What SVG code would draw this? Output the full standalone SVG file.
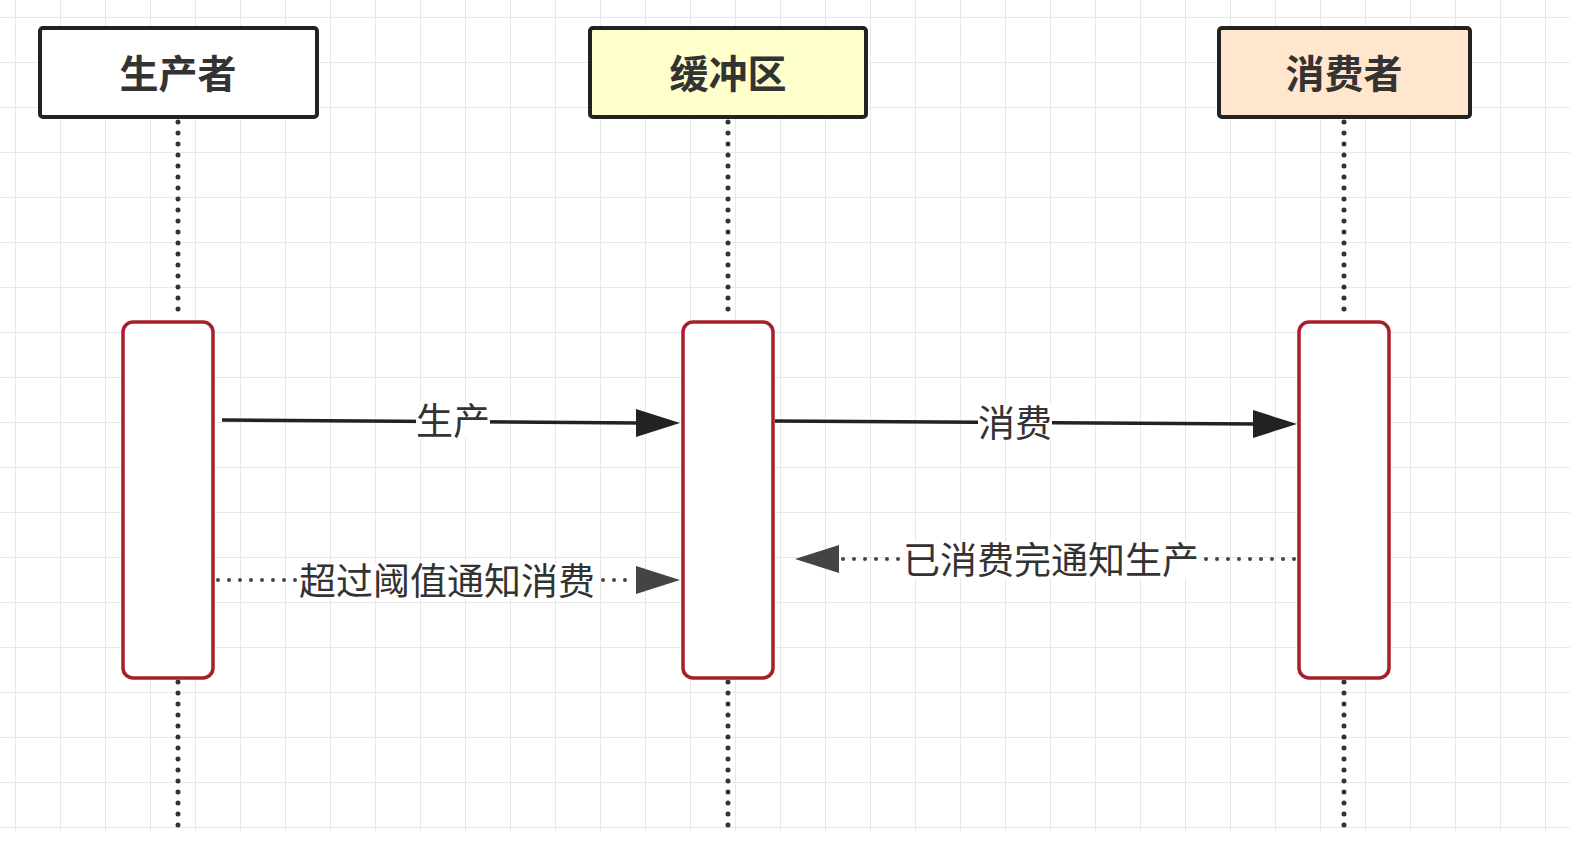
<svg xmlns="http://www.w3.org/2000/svg" width="1588" height="841" viewBox="0 0 1588 841">
<style>
.hdr{stroke:#222;stroke-width:4}
.ht{font-family:"Noto Sans CJK SC",sans-serif;font-size:39px;font-weight:bold;fill:#333;text-anchor:middle}
.life{stroke:#333;stroke-width:5;stroke-dasharray:0 11;stroke-linecap:round}
.act{fill:#fff;stroke:#a81f2b;stroke-width:3.5}
.sol{stroke:#222;stroke-width:3.5;fill:none}
.dot{stroke:#444;stroke-width:4;stroke-dasharray:0 11;stroke-linecap:round;fill:none}
.lt{font-family:"Noto Sans CJK SC",sans-serif;font-size:37px;fill:#333;text-anchor:middle}
.bg{fill:#fff}
</style>
<defs>
<pattern id="g" x="15" y="17" width="45" height="45" patternUnits="userSpaceOnUse">
<path d="M0 0H45M0 0V45" stroke="#e8e8e8" stroke-width="2" fill="none"/>
</pattern>
</defs>
<rect width="1588" height="841" fill="#fff"/>
<rect width="1570" height="831" fill="url(#g)"/>
<g id="lifelines">
<line class="life" x1="178" y1="122" x2="178" y2="320"/>
<line class="life" x1="178" y1="682" x2="178" y2="830"/>
<line class="life" x1="728" y1="122" x2="728" y2="320"/>
<line class="life" x1="728" y1="682" x2="728" y2="830"/>
<line class="life" x1="1344" y1="122" x2="1344" y2="320"/>
<line class="life" x1="1344" y1="682" x2="1344" y2="830"/>
</g>
<g id="producer"><rect class="hdr" x="40" y="28" width="277" height="89" rx="3" fill="#fff"/><text class="ht" x="178" y="88">生产者</text></g>
<g id="buffer"><rect class="hdr" x="590" y="28" width="276" height="89" rx="3" fill="#ffffcc"/><text class="ht" x="728" y="88">缓冲区</text></g>
<g id="consumer"><rect class="hdr" x="1219" y="28" width="251" height="89" rx="3" fill="#ffe6cc"/><text class="ht" x="1344" y="88">消费者</text></g>
<g id="act-producer"><rect class="act" x="123" y="322" width="90" height="356" rx="10"/></g>
<g id="act-buffer"><rect class="act" x="683" y="322" width="90" height="356" rx="10"/></g>
<g id="act-consumer"><rect class="act" x="1299" y="322" width="90" height="356" rx="10"/></g>
<g id="connectors">
<path class="sol" d="M222 420 L640 423"/><polygon points="680,423 636,409 636,437" fill="#222"/>
<rect class="bg" x="416" y="402" width="74" height="36"/><text class="lt" x="453" y="435">生产</text>
<path class="sol" d="M775 421 L1257 424"/><polygon points="1297,424 1253,410 1253,438" fill="#222"/>
<rect class="bg" x="978" y="404" width="74" height="36"/><text class="lt" x="1015" y="437">消费</text>
<path class="dot" d="M218 580 L636 580"/><polygon points="680,580 636,566 636,594" fill="#444"/>
<rect class="bg" x="298" y="563" width="298" height="36"/><text class="lt" x="447" y="595">超过阈值通知消费</text>
<path class="dot" d="M1294 559 L840 559"/><polygon points="795,559 839,545 839,573" fill="#444"/>
<rect class="bg" x="902" y="542" width="298" height="36"/><text class="lt" x="1051" y="574">已消费完通知生产</text>
</g>
</svg>
